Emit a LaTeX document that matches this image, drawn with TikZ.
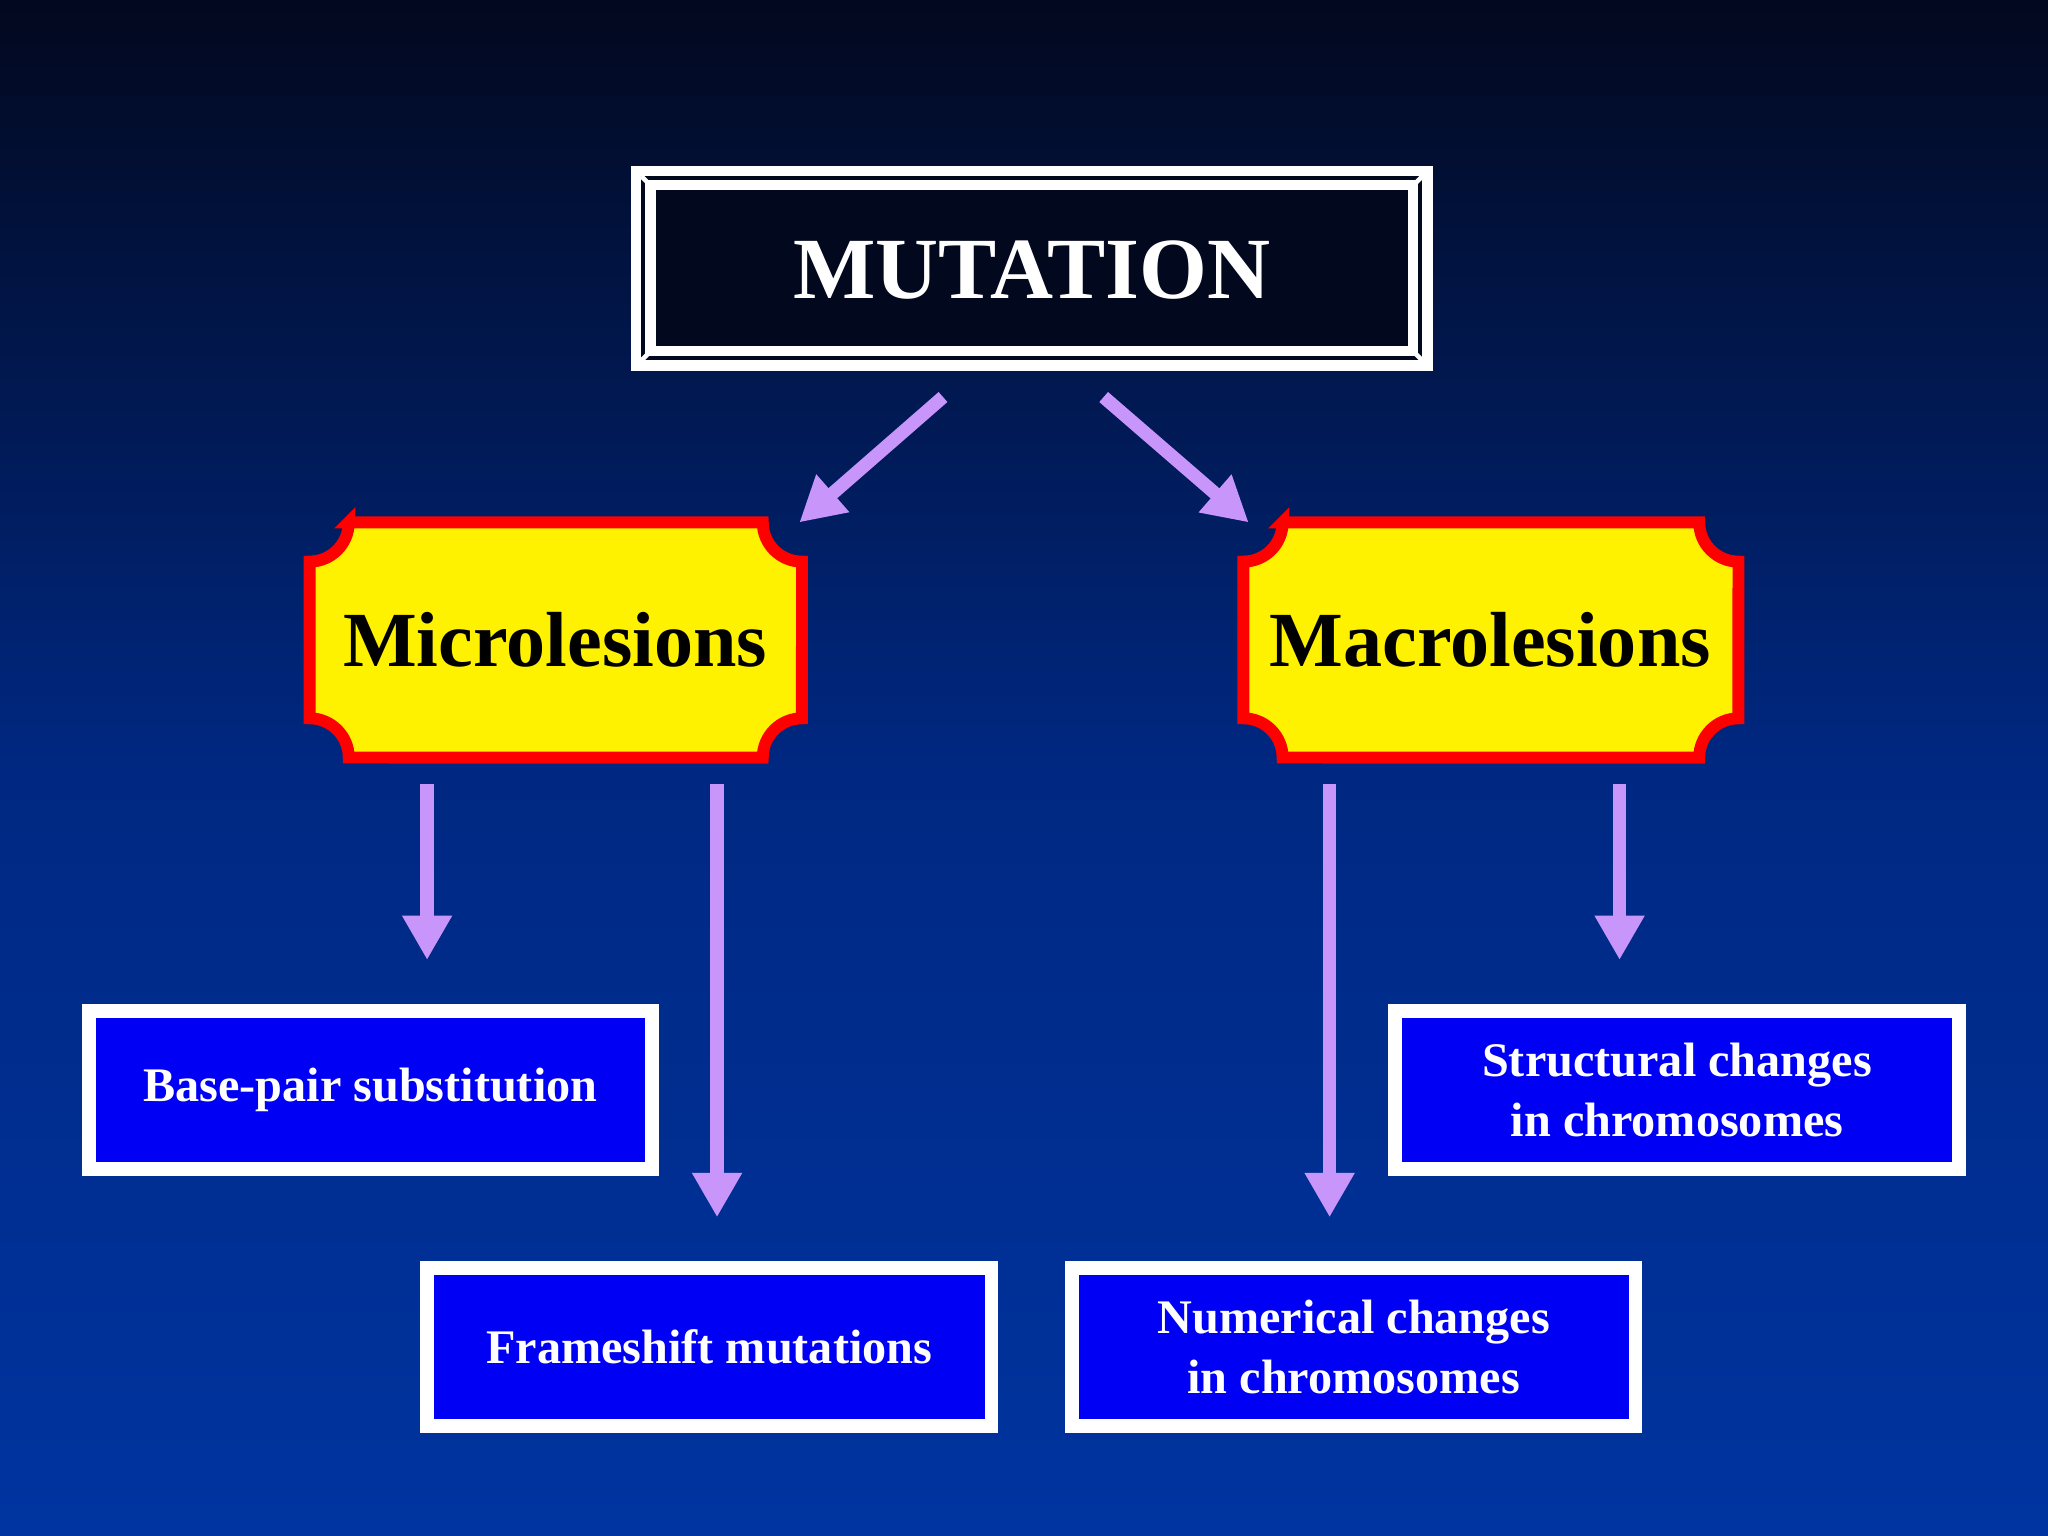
\documentclass[tikz,border=0pt]{standalone}
\usepackage{fontspec}
\setmainfont{Liberation Serif}
\usetikzlibrary{arrows.meta}
\definecolor{lav}{RGB}{200,150,250}
\definecolor{bgtop}{RGB}{2,8,30}
\definecolor{bgbot}{RGB}{0,52,160}
\definecolor{boxblue}{RGB}{0,0,245}
\tikzset{
 blbox/.style={draw=white,line width=3pt,fill=boxblue,text=white,font=\bfseries\fontsize{10.5}{13}\selectfont,align=center,inner sep=0pt},
 arr/.style={draw=lav,line width=2.9pt,-{Triangle[width=0.36cm,length=0.34cm]}},
 yel/.style={draw=red,line width=2.6pt,fill=yellow}
}
\begin{document}
\begin{tikzpicture}[x=0.01cm,y=0.01cm]
\shade[top color=bgtop,bottom color=bgbot,middle color={rgb,255:red,0;green,40;blue,130}] (0,0) rectangle (1568,1176);
\useasboundingbox (0,0) rectangle (1568,1176);
% MUTATION box
\fill[white] (483,892) rectangle (1097,1049);
\fill[bgtop] (491,900) rectangle (1089,1041);
\draw[white,line width=2.2pt] (498,907) rectangle (1082,1034);
\draw[white,line width=1pt] (491,900)--(498,907) (1089,900)--(1082,907) (491,1041)--(498,1034) (1089,1041)--(1082,1034);
\node[text=white,font=\bfseries\fontsize{19}{22}\selectfont] (mut) at (790,969) {MUTATION};
% yellow boxes
\def\ybox#1#2#3#4{\draw[yel] (#1+30,#4) -- (#3-30,#4) arc[start angle=180,end angle=270,radius=0.3cm] -- (#3,#2+30) arc[start angle=90,end angle=180,radius=0.3cm] -- (#1+30,#2) arc[start angle=0,end angle=90,radius=0.3cm] -- (#1,#4-30) arc[start angle=-90,end angle=0,radius=0.3cm] -- cycle;}
\ybox{237}{596}{614}{776}
\ybox{952}{596}{1331}{776}
\node[font=\bfseries\fontsize{17}{20}\selectfont] (mic) at (425,686) {Microlesions};
\node[font=\bfseries\fontsize{17}{20}\selectfont] (mac) at (1141,686) {Macrolesions};
% blue boxes
\node[blbox,minimum width=4.31cm,minimum height=1.21cm] (base) at (283.5,341.5) {Base-pair substitution};
\node[blbox,minimum width=4.32cm,minimum height=1.21cm] (frame) at (543,144.5) {Frameshift mutations};
\node[blbox,minimum width=4.31cm,minimum height=1.21cm] (num) at (1036.5,144.5) {Numerical changes\\ in chromosomes};
\node[blbox,minimum width=4.32cm,minimum height=1.21cm] (str) at (1284,341.5) {Structural changes\\ in chromosomes};
% arrows
\coordinate (a1s) at (722,872); \coordinate (a1e) at (612,776);
\coordinate (a2s) at (845,872); \coordinate (a2e) at (956,776);
\coordinate (a3s) at (327,576); \coordinate (a3e) at (327,441);
\coordinate (a4s) at (549,576); \coordinate (a4e) at (549,244);
\coordinate (a5s) at (1018,576); \coordinate (a5e) at (1018,244);
\coordinate (a6s) at (1240,576); \coordinate (a6e) at (1240,441);
\foreach \i in {1,...,6}{\draw[arr] (a\i s) -- (a\i e);}
\end{tikzpicture}
\end{document}
